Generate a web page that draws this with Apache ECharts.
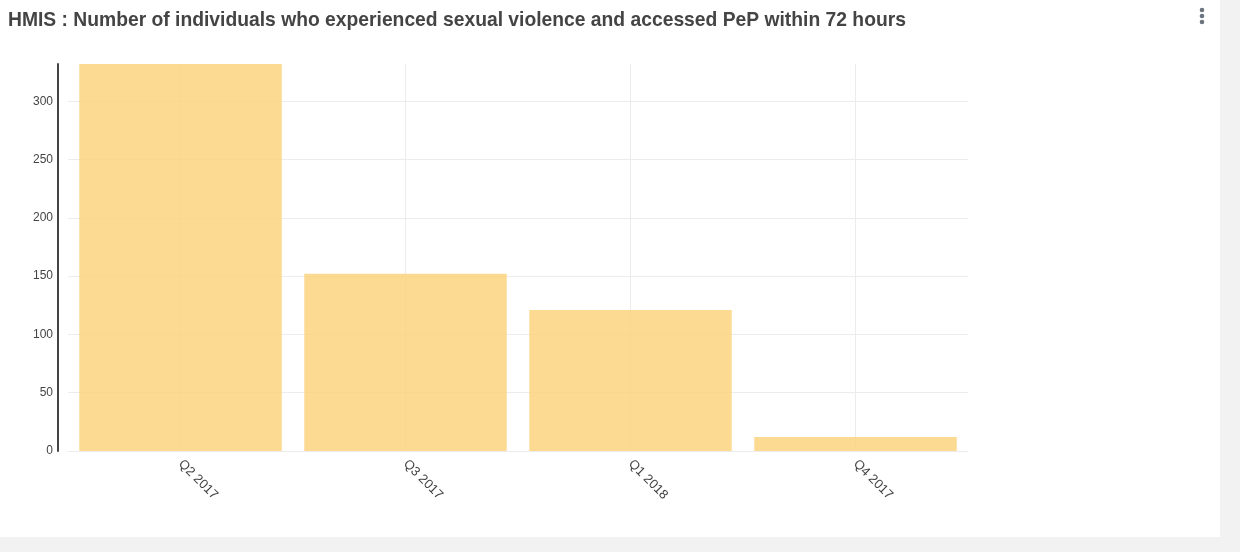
<!DOCTYPE html>
<html>
<head>
<meta charset="utf-8">
<script src="https://cdn.jsdelivr.net/npm/echarts@6/dist/echarts.min.js"></script>
<style>
  html, body { margin: 0; padding: 0; background: #f2f2f2; }
  #chart { width: 1220px; height: 537px; background: #ffffff; }
</style>
</head>
<body>
<div id="chart"></div>
<script>
var categories = ['Q2 2017', 'Q3 2017', 'Q1 2018', 'Q4 2017'];
var values = [332, 152, 121, 12];
var yTicks = [0, 50, 100, 150, 200, 250, 300];

var myChart = echarts.init(document.getElementById('chart'));
var option = {
    animation: false,
    title: {
        text: 'HMIS : Number of individuals who experienced sexual violence and accessed PeP within 72 hours',
        left: 3,
        top: 6,
        textStyle: {
            fontFamily: 'Liberation Sans, Arial, sans-serif',
            fontSize: 19.3,
            fontWeight: 'bold',
            color: '#444'
        }
    },
    graphic: [
        { type: 'circle', shape: { cx: 1202, cy: 10, r: 2.3 }, style: { fill: '#6b7580' } },
        { type: 'circle', shape: { cx: 1202, cy: 16, r: 2.3 }, style: { fill: '#6b7580' } },
        { type: 'circle', shape: { cx: 1202, cy: 22, r: 2.3 }, style: { fill: '#6b7580' } }
    ],
    grid: {
        left: 68,
        width: 900,
        top: 64,
        bottom: 537 - 451
    },
    xAxis: {
        type: 'category',
        data: categories,
        axisLine: { lineStyle: { color: '#ececec', width: 1 } },
        axisTick: { show: false },
        splitLine: { show: true, alignWithLabel: true, lineStyle: { color: '#ececec' } },
        axisLabel: {
            rotate: -45,
            margin: 11,
            color: '#444',
            fontSize: 13,
            fontFamily: 'Liberation Sans, Arial, sans-serif'
        }
    },
    yAxis: {
        type: 'value',
        min: yTicks[0],
        max: 332,
        interval: 50,
        offset: 10,
        axisLine: { show: true, lineStyle: { color: '#444', width: 2 } },
        axisTick: { show: false },
        splitLine: { show: true, showMaxLine: false, lineStyle: { color: '#ececec' } },
        axisLabel: {
            showMaxLabel: false,
            margin: 5,
            color: '#444',
            fontSize: 12,
            fontFamily: 'Liberation Sans, Arial, sans-serif'
        }
    },
    series: [
        {
            type: 'bar',
            data: values,
            barCategoryGap: '10%',
            itemStyle: { color: '#fcd47f', opacity: 0.85 }
        }
    ]
};
myChart.setOption(option);
</script>
</body>
</html>
